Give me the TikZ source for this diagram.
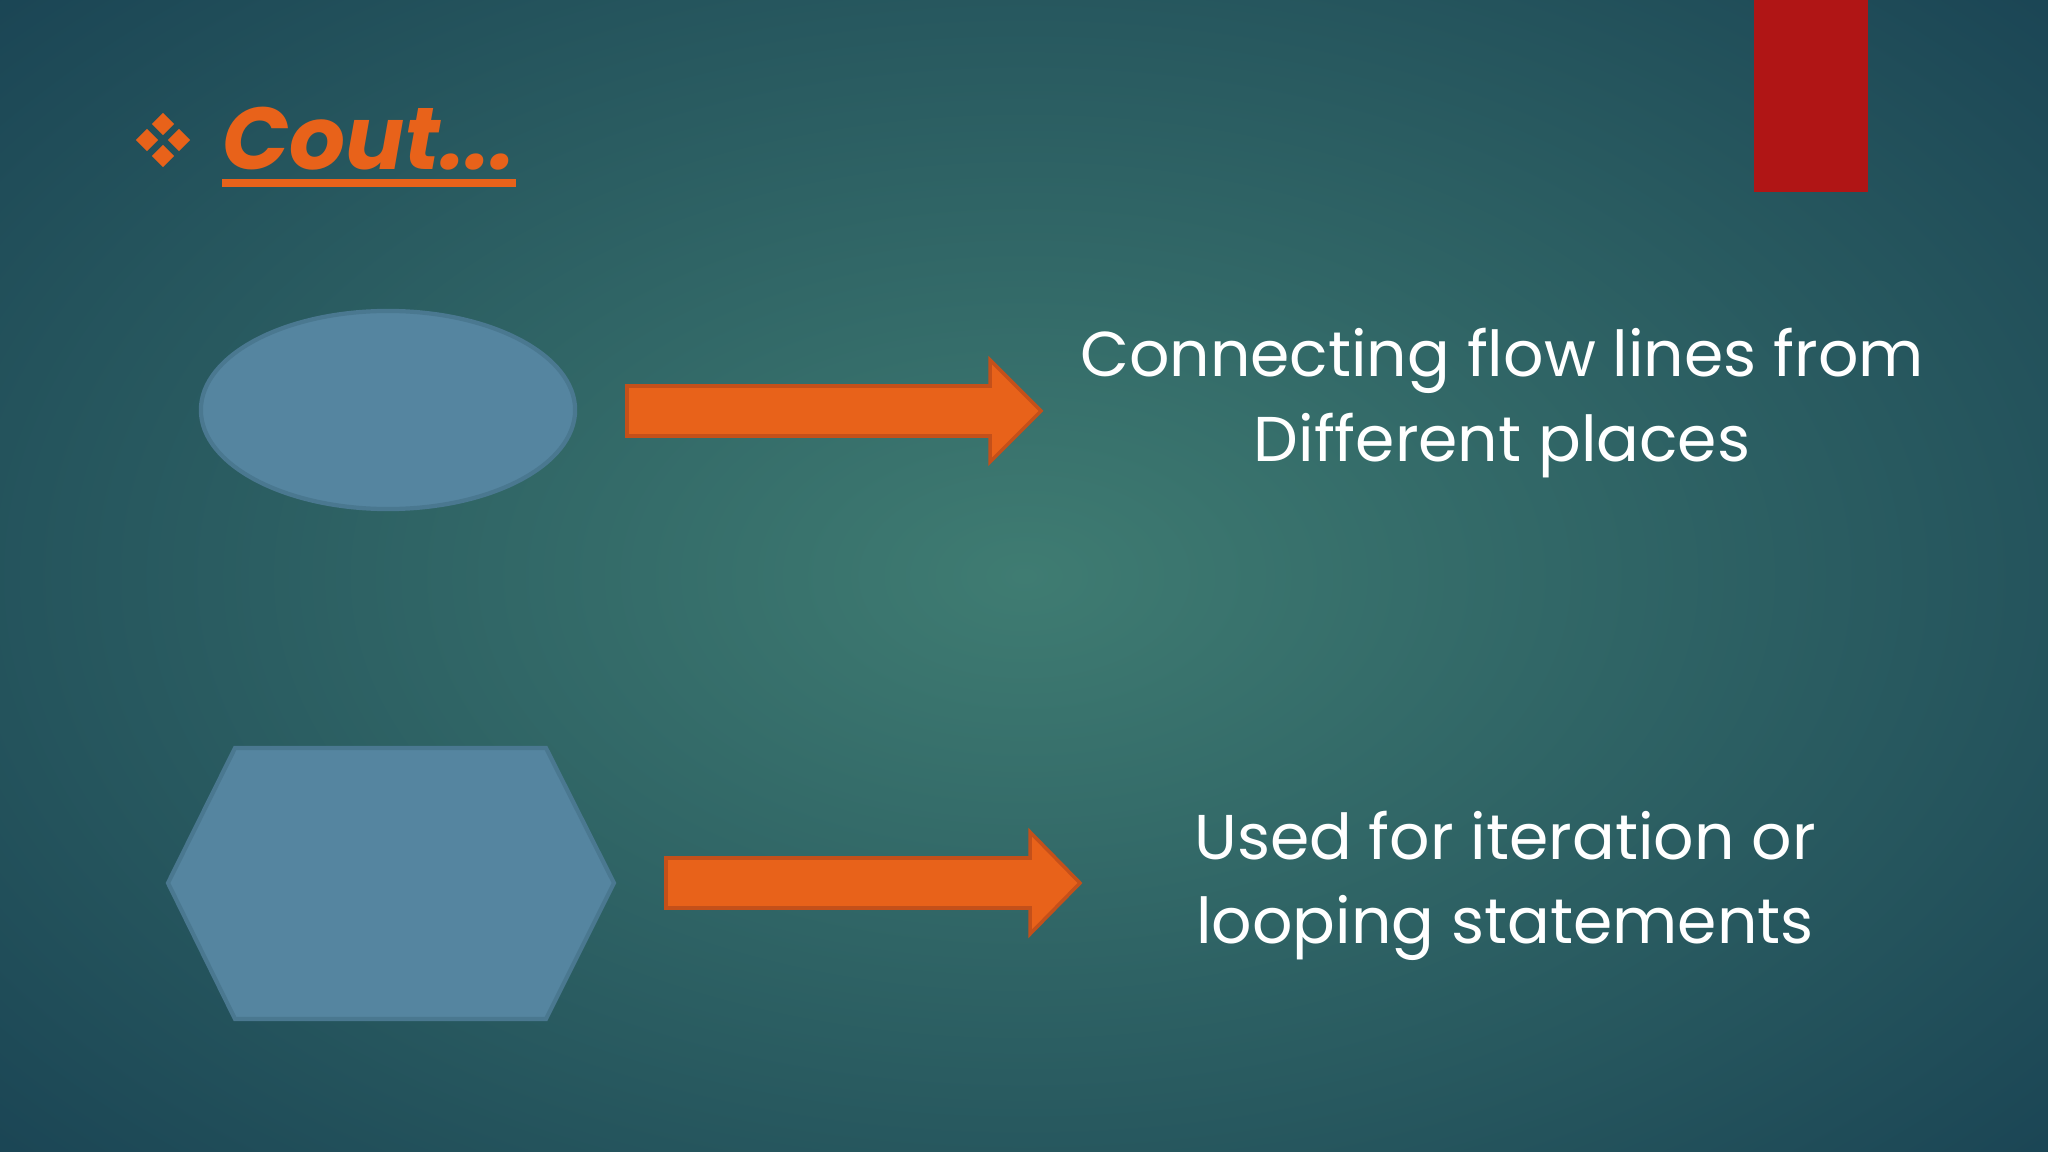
\documentclass[tikz,border=0pt]{standalone}
\usepackage{fontspec}
\setmainfont{Poppins}
\usetikzlibrary{shapes.geometric}
\definecolor{bgin}{HTML}{3F7C72}
\definecolor{bgout}{HTML}{1A4454}
\definecolor{shapeblue}{HTML}{5585A0}
\definecolor{shapeedge}{HTML}{4A7890}
\definecolor{orng}{HTML}{E8621A}
\definecolor{orngedge}{HTML}{C4501A}
\definecolor{redbar}{HTML}{B01515}
\tikzset{
  blueshape/.style={fill=shapeblue,draw=shapeedge,line width=1.2pt},
  orarrow/.style={fill=orng,draw=orngedge,line width=1pt},
  bodytext/.style={text=white,font=\fontsize{18}{24}\selectfont,align=center},
  dia/.style={fill=orng,minimum size=0.23cm,inner sep=0pt,diamond}
}
\begin{document}
\begin{tikzpicture}[x=0.01cm,y=-0.01cm]
\useasboundingbox (0,0) rectangle (2048,1152);
\shade[inner color=bgin,outer color=bgout] (-400,-300) rectangle (2448,1452);
\clip (0,0) rectangle (2048,1152);
\fill[redbar] (1754,0) rectangle (1868,192);
% title
\node[dia] (d1) at (163,124) {};
\node[dia] (d2) at (147,140) {};
\node[dia] (d3) at (179,140) {};
\node[dia] (d4) at (163,156) {};
\node[anchor=base west,text=orng,inner sep=0pt,font=\fontsize{25}{28}\selectfont\bfseries\itshape] (title) at (222,170) {Cout...};
\draw[orng,line width=2.5pt] ([yshift=-13*0.01cm]title.base west) coordinate (u1) -- ([yshift=-13*0.01cm]title.base east) coordinate (u2);
% shapes
\node[blueshape,ellipse,minimum width=3.74cm,minimum height=1.98cm,inner sep=0pt] (ell) at (388,410) {};
\draw[blueshape] (235,748) -- (546,748) -- (614,883) -- (546,1019) -- (235,1019) -- (168,883) -- cycle;
\coordinate (hex) at (391,883);
% arrows
\draw[orarrow] (627,386) -- (990,386) -- (990,360) -- (1041,411) -- (990,462) -- (990,436) -- (627,436) -- cycle;
\draw[orarrow] (666,858) -- (1030,858) -- (1030,832) -- (1080,883) -- (1030,934) -- (1030,908) -- (666,908) -- cycle;
% texts
\node[bodytext] (t1) at (1502,403) {Connecting flow lines from\\Different places};
\node[bodytext] (t2) at (1505,886) {Used for iteration or\\looping statements};
\end{tikzpicture}
\end{document}
